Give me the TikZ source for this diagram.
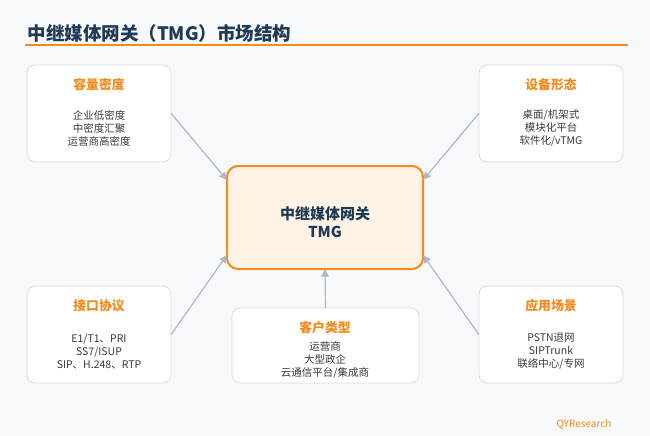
\documentclass[tikz,border=0pt]{standalone}
\usepackage{fontspec}
\setmainfont{Noto Sans CJK SC}
\usepackage{tikz}
\usepackage{xcolor}
\usetikzlibrary{positioning, arrows.meta}

\definecolor{bgcol}{HTML}{F7F9FB}
\definecolor{titlecol}{HTML}{1F3A57}
\definecolor{orangecol}{HTML}{F28A1E}
\definecolor{linkcol}{HTML}{A9BACA}
\definecolor{rimcol}{HTML}{D6DDE4}
\definecolor{bodycol}{HTML}{3A3A3A}
\definecolor{corefill}{HTML}{FFF3E6}

\begin{document}
\begin{tikzpicture}[x=1pt, y=-1pt,
    card/.style={draw=rimcol, fill=white, rounded corners=8pt, line width=0.8pt},
    core/.style={draw=orangecol, fill=corefill, rounded corners=11pt, line width=2pt},
    slot/.style={minimum width=144pt, minimum height=97pt, inner sep=0pt},
    head/.style={text=orangecol, font=\fontsize{12.8}{15}\selectfont\bfseries},
    body/.style={text=bodycol, align=center, font=\fontsize{10.5}{13}\selectfont},
    link/.style={draw=linkcol, line width=1.2pt, -{Triangle[length=7.5pt, width=7.5pt]}}]
    % Background and frame
    \fill[bgcol] (0,0) rectangle (650,436);
    \useasboundingbox (0,0) rectangle (650,436);

    % Title with orange rule
    \node[anchor=west, text=titlecol, font=\fontsize{18.5}{22}\selectfont\bfseries] (title) at (24,33) {中继媒体网关（TMG）市场结构};
    \draw[orangecol, line width=2pt] (25,45) -- (628,45);

    % Outer cards
    \draw[card] (27,65) rectangle (171,162);
    \draw[card] (479,65) rectangle (623,162);
    \draw[card] (27,286) rectangle (171,383);
    \draw[card] (479,286) rectangle (623,383);
    \draw[card] (232,308) rectangle (419,383);
    \node[slot] (cap) at (99,113.5) {};
    \node[slot] (dev) at (551,113.5) {};
    \node[slot] (itf) at (99,334.5) {};
    \node[slot] (app) at (551,334.5) {};
    \node[slot, minimum width=187pt, minimum height=75pt] (cust) at (325.5,345.5) {};

    % Central gateway box
    \draw[core] (227,166) rectangle (423,269);
    \node[slot, minimum width=196pt, minimum height=103pt] (ctr) at (325,217.5) {};
    \node[text=titlecol, align=center, font=\fontsize{15}{18}\selectfont\bfseries] at (325,222) {中继媒体网关\\TMG};

    % Card texts
    \node[head] at (99,85) {容量密度};
    \node[body] at (99,128) {企业低密度\\中密度汇聚\\运营商高密度};
    \node[head] at (551,85) {设备形态};
    \node[body] at (551,128) {桌面/机架式\\模块化平台\\软件化/vTMG};
    \node[head] at (99,306) {接口协议};
    \node[body] at (99,352) {E1/T1、PRI\\SS7/ISUP\\SIP、H.248、RTP};
    \node[head] at (551,306) {应用场景};
    \node[body] at (551,351) {PSTN退网\\SIPTrunk\\联络中心/专网};
    \node[head] at (325,328) {客户类型};
    \node[body] at (325,360) {运营商\\大型政企\\云通信平台/集成商};

    % Connectors into the centre
    \draw[link] (cap.east) -- ([yshift=-14pt]ctr.north west);
    \draw[link] (dev.west) -- ([yshift=-14pt]ctr.north east);
    \draw[link] (itf.east) -- ([yshift=14pt]ctr.south west);
    \draw[link] (app.west) -- ([yshift=14pt]ctr.south east);
    \draw[link] (cust.north) -- (ctr.south);

    % Source note
    \node[text=orangecol, font=\fontsize{10}{12}\selectfont] (src) at (584,424) {QYResearch};
\end{tikzpicture}
\end{document}
